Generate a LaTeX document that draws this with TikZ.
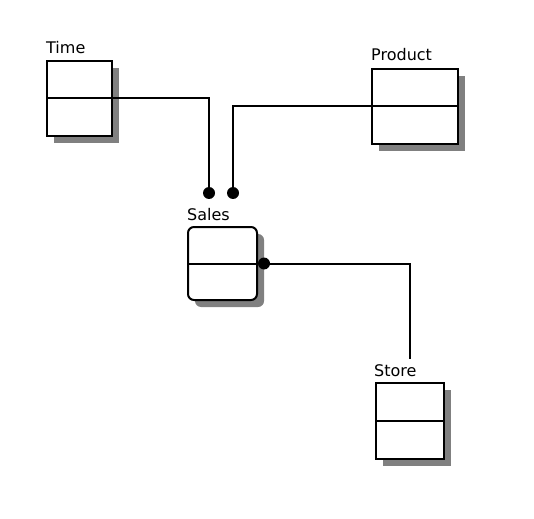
\documentclass[tikz,border=0pt]{standalone}
\usepackage{fontspec}
\setsansfont{DejaVu Sans}
\usetikzlibrary{shadows}
\tikzset{entity/.style={draw, line width=2pt, fill=white, inner sep=0pt, minimum height=75pt,
    drop shadow={shadow xshift=7pt, shadow yshift=-7pt, fill=black!50, opacity=1},
    path picture={\draw[line width=2pt] (path picture bounding box.west) -- (path picture bounding box.east);}},
  entlabel/.style={anchor=base west, inner sep=0pt, font=\sffamily\fontsize{16}{19}\selectfont},
  fk/.style={circle, fill=black, inner sep=0pt, minimum size=12pt},
  link/.style={line width=2pt}}

\begin{document}
\begin{tikzpicture}[x=1pt, y=-1pt]
  \fill[white] (0,0) rectangle (534,518);
  \useasboundingbox (0,0) rectangle (534,518);
  % tables
  \node[entity, minimum width=65pt] (time) at (79.5,98.5) {};
  \node[entity, minimum width=86pt] (product) at (415,106.5) {};
  \node[entity, minimum width=69pt, minimum height=73pt, rounded corners=6pt] (sales) at (222.5,263.5) {};
  \node[entity, minimum width=68pt, minimum height=76pt] (store) at (410,421) {};
  % names
  \node[entlabel] (timename) at ([yshift=6pt]time.north west) {Time};
  \node[entlabel] (productname) at ([yshift=7pt]product.north west) {Product};
  \node[entlabel] (salesname) at ([yshift=5pt]sales.north west) {Sales};
  \node[entlabel] (storename) at ([xshift=-1pt, yshift=6pt]store.north west) {Store};
  % relationships
  \node[fk] (timekey) at (209,193) {};
  \node[fk] (productkey) at (233,193) {};
  \node[fk] (storekey) at ([xshift=6pt]sales.east) {};
  \draw[link] (time.east) -| (timekey);
  \draw[link] (product.west) -| (productkey);
  \draw[link] (storekey) -| ([yshift=5pt]store.north |- storename.north);
\end{tikzpicture}
\end{document}
